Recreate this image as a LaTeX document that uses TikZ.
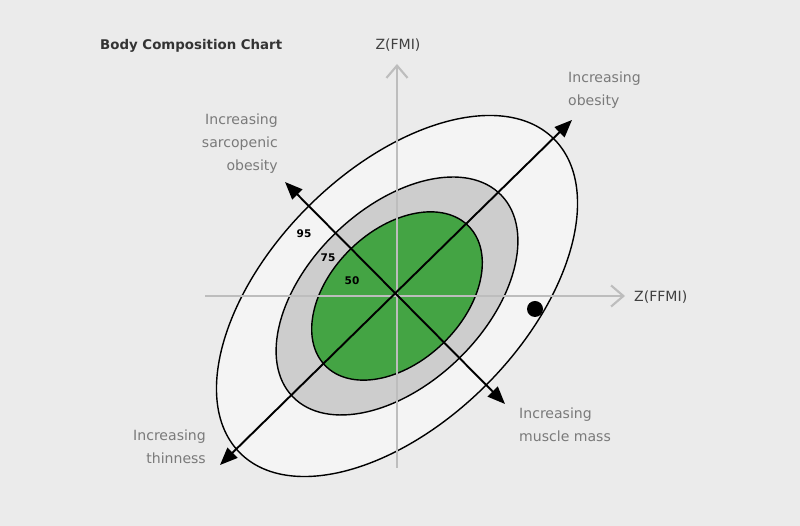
\documentclass[tikz,border=0pt]{standalone}
\usepackage{fontspec}
\setmainfont{DejaVu Sans}
\usepackage{tikz}
\usetikzlibrary{arrows.meta}
\definecolor{bgcol}{HTML}{EBEBEB}
\definecolor{ringout}{HTML}{F4F4F4}
\definecolor{ringmid}{HTML}{CDCDCD}
\definecolor{ringin}{HTML}{44A444}
\definecolor{axiscol}{HTML}{BDBDBD}
\definecolor{labcol}{HTML}{7A7A7A}
\begin{document}
\begin{tikzpicture}[x=0.02cm, y=0.02cm,
    axisline/.style={axiscol, line width=1.2pt, -{Straight Barb[length=7pt,width=12pt]}},
    dirarrow/.style={black, line width=1.1pt, {Triangle[length=10pt,width=8pt]}-{Triangle[length=10pt,width=8pt]}},
    dirlabel/.style={labcol, font=\fontsize{8}{13}\selectfont},
    pctlabel/.style={font=\fontsize{6}{7}\selectfont\bfseries, inner sep=0pt}]
    % Background
    \fill[bgcol] (0,0) rectangle (800,526);
    \useasboundingbox (0,0) rectangle (800,526);

    % Axes
    \coordinate (c) at (397,230);
    \coordinate (xl) at (205,230);
    \coordinate (xr) at (625,230);
    \coordinate (yb) at (397,58);
    \coordinate (yt) at (397,462);

    % Percentile ellipses
    \draw[fill=ringout, line width=0.8pt] (c) ellipse[x radius=222, y radius=126, rotate=45];
    \draw[fill=ringmid, line width=0.8pt] (c) ellipse[x radius=145, y radius=88, rotate=44];
    \draw[fill=ringin, line width=0.8pt] (c) ellipse[x radius=100, y radius=66, rotate=44];

    \draw[axisline] (xl) -- (xr);
    \draw[axisline] (yb) -- (yt);
    \node[anchor=west, font=\fontsize{8}{10}\selectfont, text=black!75] (zffmi) at (628,229) {Z(FFMI)};
    \node[font=\fontsize{8}{10}\selectfont, text=black!75] (zfmi) at (398,481) {Z(FMI)};

    % Direction arrows
    \coordinate (thin) at (220,61);
    \coordinate (obese) at (572,406);
    \coordinate (sarc) at (285,344);
    \coordinate (muscle) at (505,122);
    \draw[dirarrow] (thin) -- (obese);
    \draw[dirarrow] (sarc) -- (muscle);

    % Percentile labels
    \node[pctlabel] (p95) at (304,292) {95};
    \node[pctlabel] (p75) at (328,268) {75};
    \node[pctlabel] (p50) at (352,245) {50};

    % Measured point
    \fill (535,217) circle (8);

    % Labels
    \node[anchor=west, font=\fontsize{7.6}{10}\selectfont\bfseries, text=black!80] (title) at (94,480) {Body Composition Chart};
    \node[dirlabel, anchor=north east, align=right] (lsarc) at (284,418) {Increasing\\sarcopenic\\obesity};
    \node[dirlabel, anchor=north west, align=left] (lobese) at (562,460) {Increasing\\obesity};
    \node[dirlabel, anchor=north west, align=left] (lmuscle) at (513,124) {Increasing\\muscle mass};
    \node[dirlabel, anchor=north east, align=right] (lthin) at (212,102) {Increasing\\thinness};
\end{tikzpicture}
\end{document}
